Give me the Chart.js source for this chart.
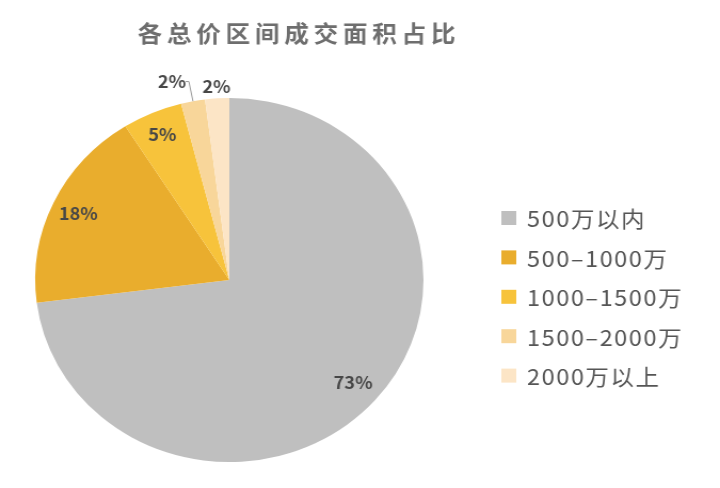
<!DOCTYPE html>
<html>
<head>
<meta charset="utf-8">
<script src="https://cdn.jsdelivr.net/npm/chart.js@4.4.0/dist/chart.umd.min.js"></script>
<style>
	html, body { margin: 0; padding: 0; background: #fff; }
	#c { display: block; }
</style>
</head>
<body>
<!-- the reference is a little wider than tall, so the canvas is stretched sideways -->
<canvas id="c" width="675" height="488" style="width:720px;height:488px"></canvas>
<script>
var chartTitle = '各总价区间成交面积占比';
var categories = ['500万以内', '500–1000万', '1000–1500万', '1500–2000万', '2000万以上'];
var shares = [73, 18, 5, 2, 2];
var sliceColors = ['#bfbfbf', '#e9ad2d', '#f7c33b', '#f8d69a', '#fce5c6'];

// where each value label sits: fraction of the radius, and a small angle shift (degrees)
var labelRadius = [0.85, 0.86, 0.87, 1.13, 1.065];
var labelShift = [0, 0, 0, -4.4, 0];

var extras = {
	id: 'extras',
	afterDraw: function (chart) {
		var ctx = chart.ctx;
		var meta = chart.getDatasetMeta(0);
		var data = chart.data.datasets[0].data;

		ctx.save();

		// Title
		ctx.fillStyle = '#6e6e6e';
		ctx.font = 'bold 23px "Noto Sans CJK SC"';
		ctx.letterSpacing = '4.5px';
		ctx.textAlign = 'left';
		ctx.textBaseline = 'middle';
		ctx.fillText(chartTitle, 129, 33);

		// Value labels
		ctx.letterSpacing = '0px';
		ctx.font = '600 17px "Noto Sans CJK SC"';
		ctx.fillStyle = '#474747';
		ctx.textAlign = 'center';
		for (var i = 0; i < meta.data.length; i++) {
			var arc = meta.data[i];
			var mid = (arc.startAngle + arc.endAngle) / 2;
			var a = mid + labelShift[i] * Math.PI / 180;
			var r = arc.outerRadius * labelRadius[i];
			var lx = arc.x + Math.cos(a) * r;
			var ly = arc.y + Math.sin(a) * r;

			// Leader line for the label pushed off its slice
			if (labelShift[i] !== 0) {
				ctx.strokeStyle = '#9a9a9a';
				ctx.lineWidth = 1;
				ctx.beginPath();
				ctx.moveTo(arc.x + Math.cos(mid) * arc.outerRadius, arc.y + Math.sin(mid) * arc.outerRadius);
				ctx.lineTo(lx + 16, ly);
				ctx.lineTo(lx + 13, ly);
				ctx.stroke();
			}
			ctx.fillText(data[i] + '%', lx, ly);
		}

		// Legend
		ctx.font = '22px "Noto Sans CJK SC"';
		ctx.letterSpacing = '1.5px';
		ctx.textAlign = 'left';
		for (var j = 0; j < categories.length; j++) {
			var y = 218 + j * 39.4;
			ctx.fillStyle = sliceColors[j];
			ctx.fillRect(470, y - 7, 14, 14);
			ctx.fillStyle = '#555555';
			ctx.fillText(chart.data.labels[j], 494, y + 1);
		}

		ctx.restore();
	}
};

new Chart(document.getElementById('c'), {
	type: 'pie',
	data: {
		labels: categories,
		datasets: [{
			data: shares,
			backgroundColor: sliceColors,
			borderWidth: 0
		}]
	},
	options: {
		responsive: false,
		animation: false,
		layout: {
			padding: { left: 33, right: 278, top: 98, bottom: 26 }
		},
		plugins: {
			legend: { display: false },
			title: { display: false },
			tooltip: { enabled: false }
		}
	},
	plugins: [extras]
});
</script>
</body>
</html>
